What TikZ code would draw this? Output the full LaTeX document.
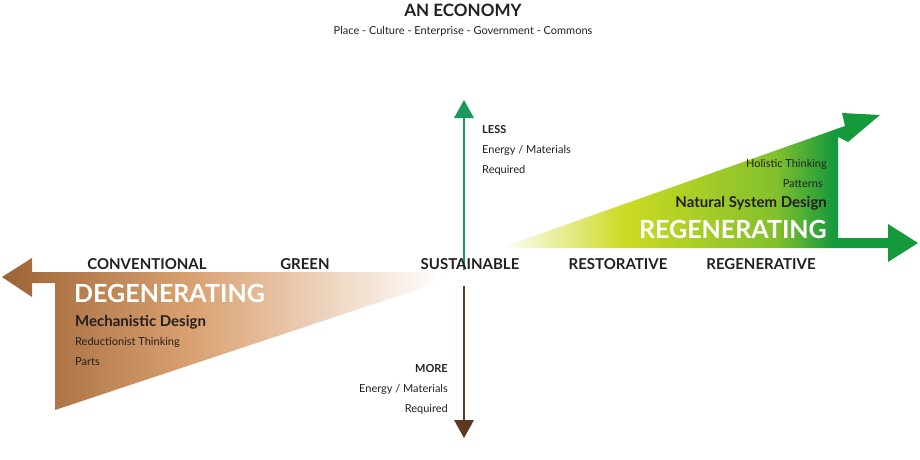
\documentclass[tikz,border=0pt]{standalone}
\usepackage{fontspec}
\setmainfont{Lato}
\definecolor{brn}{HTML}{9C6336}
\definecolor{tan}{HTML}{D9A070}
\definecolor{grn}{HTML}{14993C}
\definecolor{ylw}{HTML}{CCDA22}
\definecolor{dk}{HTML}{231F20}
\definecolor{axg}{HTML}{1A9A5A}
\definecolor{axb}{HTML}{5C3A22}
\pgfdeclarehorizontalshading{brownfade}{100bp}{color(0bp)=(brn); color(25bp)=(brn); color(45bp)=(tan); color(72bp)=(white); color(100bp)=(white)}
\pgfdeclarehorizontalshading{greenfade}{100bp}{color(0bp)=(white); color(25bp)=(white); color(40bp)=(ylw); color(58bp)=(ylw!60!grn); color(65bp)=(grn); color(100bp)=(grn)}
\tikzset{
 lab/.style={font=\fontsize{15}{15}\selectfont\bfseries, text=dk, inner sep=0pt},
 big/.style={font=\fontsize{25}{25}\selectfont\bfseries, text=white, inner sep=0pt},
 mid/.style={font=\fontsize{15}{15}\selectfont\bfseries, text=dk, inner sep=0pt},
 sm/.style={font=\fontsize{11}{11}\selectfont, text=dk, inner sep=0pt},
 smb/.style={font=\fontsize{11}{11}\selectfont\bfseries, text=dk, inner sep=0pt},
}
\begin{document}
\begin{tikzpicture}[x=1pt,y=-1pt]
\useasboundingbox (0,0) rectangle (920,460);
% left shape
\path[shading=brownfade] (2,277) -- (32,258) -- (32,272) -- (470,272) -- (55,410) -- (55,283) -- (32,283) -- (32,297) -- cycle;
% right shape
\path[shading=greenfade] (500,248) -- (888,248) -- (888,262) -- (918,243) -- (888,224) -- (888,238) -- (838,238) -- (838,137) -- (848,142) -- (880,115) -- (842,113) -- (845,126) -- cycle;
% vertical axis
\coordinate (c) at (464,272);
\coordinate (u) at (464,100);
\coordinate (d) at (464,438);
\draw[axg, line width=2pt] (464,270) -- (464,118);
\fill[axg] (u) -- (454,118) -- (474,118) -- cycle;
\draw[axb, line width=2pt] (464,286) -- (464,420);
\fill[axb] (d) -- (454,420) -- (474,420) -- cycle;
% texts
\node[font=\fontsize{17}{17}\selectfont\bfseries, text=dk, inner sep=0pt] (t) at (463,10) {AN ECONOMY};
\node[sm] (st) at (463,31) {Place - Culture - Enterprise - Government - Commons};
\node[lab] (l1) at (147,264) {CONVENTIONAL};
\node[lab] (l2) at (305,264) {GREEN};
\node[lab] (l3) at (470,264) {SUSTAINABLE};
\node[lab] (l4) at (618,264) {RESTORATIVE};
\node[lab] (l5) at (761,264) {REGENERATIVE};
\node[big, anchor=west] (dg) at (74,293) {DEGENERATING};
\node[mid, anchor=west] (md) at (75,322) {Mechanistic Design};
\node[sm, anchor=west] (rt) at (75,342) {Reductionist Thinking};
\node[sm, anchor=west] (pa) at (75,362) {Parts};
\node[smb, anchor=east] (mo) at (448,369) {MORE};
\node[sm, anchor=east] (em) at (448,389) {Energy / Materials};
\node[sm, anchor=east] (rm) at (448,409) {Required};
\node[smb, anchor=west] (le) at (482,130) {LESS};
\node[sm, anchor=west] (el) at (482,150) {Energy / Materials};
\node[sm, anchor=west] (rl) at (482,170) {Required};
\node[big, anchor=east] (rg) at (827,229) {REGENERATING};
\node[mid, anchor=east] (ns) at (827,203) {Natural System Design};
\node[sm, anchor=east] (ht) at (827,164) {Holistic Thinking};
\node[sm, anchor=east] (pt) at (823,184) {Patterns};
\end{tikzpicture}
\end{document}
